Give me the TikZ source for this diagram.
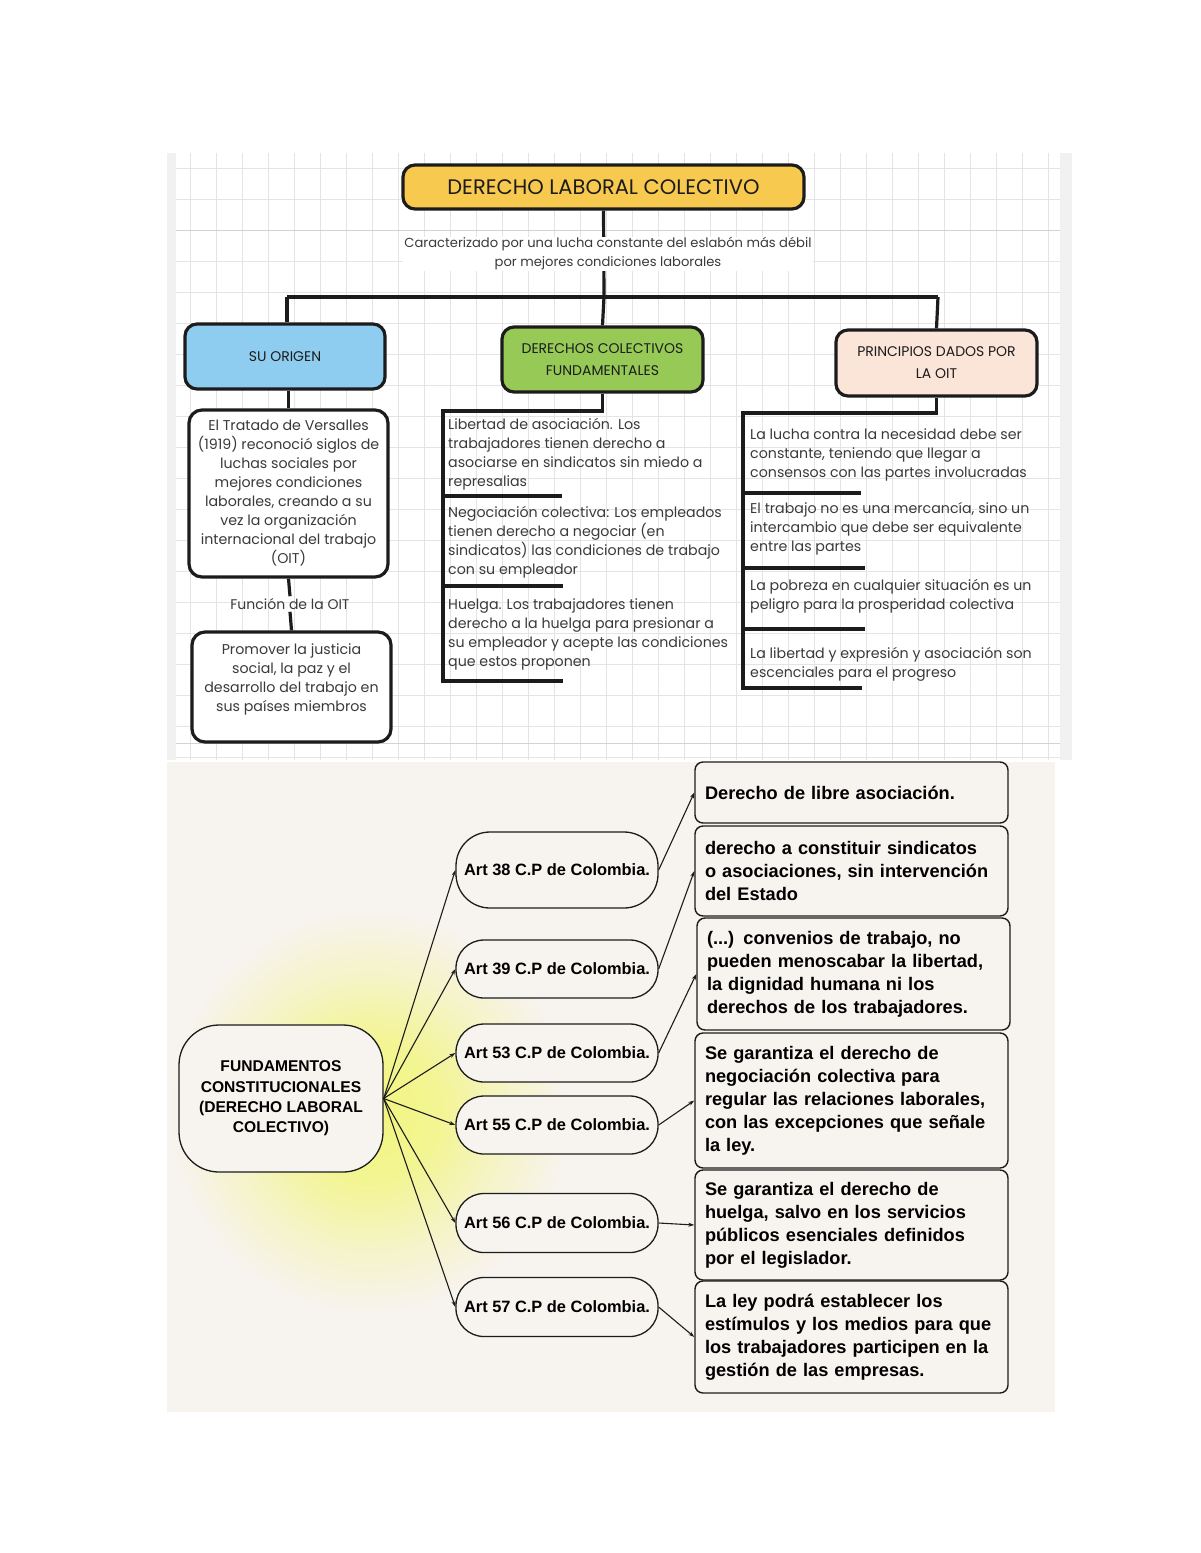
\documentclass[tikz,border=0pt]{standalone}
\usepackage{fontspec}
\setmainfont{Liberation Sans}
\newfontfamily\hand{Poppins}
\usetikzlibrary{arrows.meta}
\definecolor{gridc}{HTML}{E4E4E4}
\definecolor{stripc}{HTML}{F1F1F1}
\definecolor{bgc}{HTML}{F7F3EE}
\definecolor{glowc}{HTML}{F2F57E}
\definecolor{titlec}{HTML}{F8C94F}
\definecolor{bluec}{HTML}{8FCDF0}
\definecolor{greenc}{HTML}{96C955}
\definecolor{pinkc}{HTML}{FBE4D8}
\definecolor{inkc}{HTML}{1C1C1C}
\definecolor{txtc}{HTML}{3A3A3A}
\pgfdeclareradialshading{glow}{\pgfpoint{0bp}{0bp}}{color(0bp)=(glowc); color(9bp)=(glowc!80!bgc); color(17bp)=(glowc!35!bgc); color(25bp)=(bgc); color(50bp)=(bgc)}
\tikzset{
  topbox/.style={draw=inkc, line width=3.2pt, rounded corners=12pt, inner sep=0pt, align=center,
    font=\hand\fontsize{14}{22}\selectfont, text=inkc},
  whitebox/.style={draw=inkc, line width=3.2pt, rounded corners=13pt, fill=white, inner sep=0pt,
    align=center, font=\hand\fontsize{14.2}{19}\selectfont, text=txtc},
  bar/.style={draw=inkc, line width=3.2pt},
  leftnote/.style={anchor=north west, inner sep=0pt, align=left, font=\hand\fontsize{14.2}{19}\selectfont, text=txtc},
  artbox/.style={draw=inkc, line width=1.3pt, rounded corners=28pt, fill=bgc, minimum width=202pt,
    inner sep=0pt, font=\bfseries\fontsize{16.4}{18}\selectfont},
  infobox/.style={draw=inkc, line width=1.4pt, rounded corners=8pt, fill=bgc, inner xsep=10pt, inner ysep=0pt,
    text width=293pt, align=left, font=\bfseries\fontsize{18.2}{23}\selectfont},
  arr/.style={draw=inkc, line width=1.1pt, -{Stealth[length=6pt,width=4pt]}}
}
\begin{document}
\begin{tikzpicture}[x=1pt,y=-1pt]
\useasboundingbox (0,0) rectangle (1200,1553);
\fill[white] (0,0) rectangle (1200,1553);
% ---------- top panel (grid paper) ----------
\fill[stripc] (167,153) rectangle (1072,760);
\fill[white] (176,153) rectangle (1060,760);
\begin{scope}
  \clip (176,153) rectangle (1060,760);
  \foreach \x in {190,216,...,1060} \draw[gridc, line width=0.7pt] (\x,153) -- (\x,760);
  \foreach \y in {168,199,...,760} \draw[gridc, line width=0.7pt] (176,\y) -- (1060,\y);
  \draw[gridc!80!black!60, line width=0.8pt] (176,230) -- (1060,230);
  \draw[gridc!80!black!60, line width=0.8pt] (176,743) -- (1060,743);
\end{scope}
% title
\node[topbox, fill=titlec, minimum width=401pt, minimum height=44pt, font=\hand\fontsize{21}{24}\selectfont] (title) at (603.5,187) {DERECHO LABORAL COLECTIVO};
\coordinate (jc) at (604,297);
\coordinate (jl) at (287,297);
\coordinate (jr) at (938,297);
\draw[bar] (title.south) -- (jc);
\draw[bar] (jl) -- (jr);
\node[fill=white, inner sep=1pt, align=center, font=\hand\fontsize{13.1}{19}\selectfont, text=txtc] (cap) at (608,254)
  {Caracterizado por una lucha constante del eslabón más débil\\por mejores condiciones laborales};
% category boxes
\node[topbox, fill=bluec, minimum width=200pt, minimum height=65pt] (orig) at (285,356.5) {SU ORIGEN};
\node[topbox, fill=greenc, minimum width=201pt, minimum height=65pt] (dcf) at (602.5,359.5) {DERECHOS COLECTIVOS\\FUNDAMENTALES};
\node[topbox, fill=pinkc, minimum width=201pt, minimum height=66pt] (pri) at (936.5,363) {PRINCIPIOS DADOS POR\\LA OIT};
\draw[bar] (jl) -- (jl |- orig.north);
\draw[bar] (jc) -- (dcf.north);
\draw[bar] (jr) -- (pri.north);
% left column
\node[whitebox, minimum width=199pt, minimum height=167pt] (vers) at (288.5,493.5)
  {El Tratado de Versalles\\(1919) reconoció siglos de\\luchas sociales por\\mejores condiciones\\laborales, creando a su\\vez la organización\\internacional del trabajo\\(OIT)};
\draw[bar] (vers.north |- orig.south) -- (vers.north);
\node[inner sep=2pt, font=\hand\fontsize{14}{15}\selectfont, text=txtc] (func) at (290,604) {Función de la OIT};
\node[whitebox, minimum width=199pt, minimum height=110pt] (prom) at (291.5,687)
  {Promover la justicia\\social, la paz y el\\desarrollo del trabajo en\\sus países miembros\\};
\draw[bar] (vers.south) -- (func.north);
\draw[bar] (func.south) -- (prom.north);
% middle column
\draw[bar] (dcf.south) |- (443,411) -- (443,681) -- (563,681);
\draw[bar] (443,496) -- (562,496);
\draw[bar] (443,586) -- (563,586);
\node[leftnote] (m1) at (448,418) {Libertad de asociación. Los\\trabajadores tienen derecho a\\asociarse en sindicatos sin miedo a\\represalias};
\node[leftnote] (m2) at (448,506) {Negociación colectiva: Los empleados\\tienen derecho a negociar (en\\sindicatos) las condiciones de trabajo\\con su empleador};
\node[leftnote] (m3) at (448,598) {Huelga. Los trabajadores tienen\\derecho a la huelga para presionar a\\su empleador y acepte las condiciones\\que estos proponen};
% right column
\draw[bar] (pri.south) |- (743,413) -- (743,688) -- (862,688);
\draw[bar] (743,493) -- (861,493);
\draw[bar] (743,568) -- (865,568);
\draw[bar] (743,629) -- (865,629);
\node[leftnote] (r1) at (750,428) {La lucha contra la necesidad debe ser\\constante, teniendo que llegar a\\consensos con las partes involucradas};
\node[leftnote] (r2) at (750,502) {El trabajo no es una mercancía, sino un\\intercambio que debe ser equivalente\\entre las partes};
\node[leftnote] (r3) at (750,579) {La pobreza en cualquier situación es un\\peligro para la prosperidad colectiva};
\node[leftnote] (r4) at (750,647) {La libertad y expresión y asociación son\\escenciales para el progreso};
% ---------- bottom panel ----------
\fill[bgc] (167,762) rectangle (1055,1412);
\begin{scope}
  \clip (167,762) rectangle (1055,1412);
  \shade[shading=glow] (370,1112) circle (200);
\end{scope}
\node[draw=inkc, line width=1.3pt, rounded corners=40pt, fill=bgc, minimum width=204pt, minimum height=147pt,
  inner sep=0pt, align=center, font=\bfseries\fontsize{15.6}{20.3}\selectfont] (fund) at (281,1098.5)
  {FUNDAMENTOS\\CONSTITUCIONALES\\(DERECHO LABORAL\\COLECTIVO)};
\node[artbox, minimum height=76pt, rounded corners=34pt] (a38) at (557,870) {Art 38 C.P de Colombia.};
\node[artbox, minimum height=58pt] (a39) at (557,969) {Art 39 C.P de Colombia.};
\node[artbox, minimum height=58pt] (a53) at (557,1053) {Art 53 C.P de Colombia.};
\node[artbox, minimum height=58pt] (a55) at (557,1125) {Art 55 C.P de Colombia.};
\node[artbox, minimum height=59pt] (a56) at (557,1223) {Art 56 C.P de Colombia.};
\node[artbox, minimum height=59pt] (a57) at (557,1307) {Art 57 C.P de Colombia.};
\node[infobox, minimum height=61pt] (b1) at (851.5,792.5) {Derecho de libre asociación.};
\node[infobox, minimum height=90pt] (b2) at (851.5,871) {derecho a constituir sindicatos\\o asociaciones, sin intervención\\del Estado};
\node[infobox, minimum height=112pt] (b3) at (853.5,974) {(...) convenios de trabajo, no\\pueden menoscabar la libertad,\\la dignidad humana ni los\\derechos de los trabajadores.};
\node[infobox, minimum height=135pt] (b4) at (851.5,1100.5) {Se garantiza el derecho de\\negociación colectiva para\\regular las relaciones laborales,\\con las excepciones que señale\\la ley.};
\node[infobox, minimum height=110pt] (b5) at (851.5,1225) {Se garantiza el derecho de\\huelga, salvo en los servicios\\públicos esenciales definidos\\por el legislador.};
\node[infobox, minimum height=112pt] (b6) at (851.5,1337) {La ley podrá establecer los\\estímulos y los medios para que\\los trabajadores participen en la\\gestión de las empresas.};
\foreach \t in {a38,a39,a53,a55,a56,a57} \draw[arr] (fund.east) -- (\t.west);
\draw[arr] (a38.east) -- (b1.west);
\draw[arr] (a39.east) -- (b2.west);
\draw[arr] (a53.east) -- (b3.west);
\draw[arr] (a55.east) -- (b4.west);
\draw[arr] (a56.east) -- (b5.west);
\draw[arr] (a57.east) -- (b6.west);
\end{tikzpicture}
\end{document}
